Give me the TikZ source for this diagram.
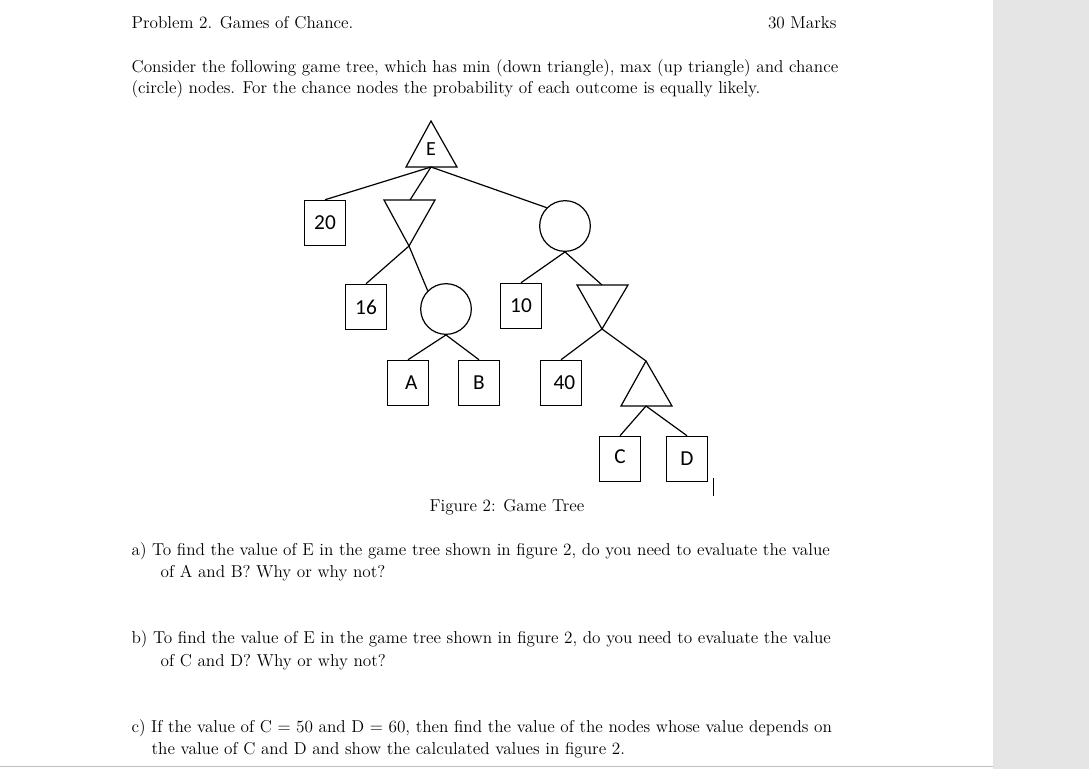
\documentclass[tikz,border=0pt]{standalone}
\usepackage{fontspec}
\newfontfamily\calib{Carlito}
\begin{document}
\begin{tikzpicture}[x=0.75pt,y=-0.75pt,line width=0.9pt,
  txt/.style={anchor=base west,inner sep=0pt,font=\fontsize{12.9}{15}\selectfont},
  leaf/.style={draw,minimum width=31pt,minimum height=34pt,inner sep=0pt,font=\calib\fontsize{16}{18}\selectfont},
  chance/.style={draw,circle,minimum size=38pt,inner sep=0pt}]
\useasboundingbox (0,0) rectangle (1089,769);
\fill[white] (0,0) rectangle (993,769);
\fill[black!10] (993,0) rectangle (1089,769);
\draw[black!25,line width=0.6pt] (0,766) -- (993,766);
% texts
\node[txt] (t1) at (131,28) {Problem 2. Games of Chance.};
\node[txt,anchor=base east] (t2) at (837,28) {30 Marks};
\node[txt] (t3) at (131,72) {Consider the following game tree, which has min (down triangle), max (up triangle) and chance};
\node[txt] (t4) at (131,93) {(circle) nodes. For the chance nodes the probability of each outcome is equally likely.};
\node[txt] (cap) at (429,511) {Figure 2: Game Tree};
\node[txt] (a1) at (131,555) {a) To find the value of E in the game tree shown in figure 2, do you need to evaluate the value};
\node[txt] (a2) at (160,577) {of A and B? Why or why not?};
\node[txt] (b1) at (131,643) {b) To find the value of E in the game tree shown in figure 2, do you need to evaluate the value};
\node[txt] (b2) at (160,666) {of C and D? Why or why not?};
\node[txt] (c1) at (131,732) {c) If the value of C = 50 and D = 60, then find the value of the nodes whose value depends on};
\node[txt] (c2) at (151,754) {the value of C and D and show the calculated values in figure 2.};
% tree shapes
\draw (406,167) -- (431,121) -- (457,167) -- cycle;
\coordinate (Eb) at (431,167);
\node[font=\calib\fontsize{15}{17}\selectfont] (E) at (431,149) {E};
\node[leaf] (n20) at (325,223) {20};
\draw (384,200) -- (435,200) -- (409,246) -- cycle;
\coordinate (m1t) at (410,200); \coordinate (m1b) at (409,246);
\node[chance] (c1n) at (565,226) {};
\node[leaf] (n16) at (366,307) {16};
\node[chance] (c2n) at (446,309) {};
\node[leaf] (n10) at (521,306) {10};
\draw (577,285) -- (628,285) -- (602,329) -- cycle;
\coordinate (m2t) at (602,285); \coordinate (m2b) at (602,329);
\node[leaf] (nA) at (408,383) {\hspace*{5pt}A};
\node[leaf] (nB) at (479,383) {B};
\node[leaf] (n40) at (561,383) {\hspace*{5pt}40};
\draw (621,406) -- (646,361) -- (672,406) -- cycle;
\coordinate (Mt) at (646,361); \coordinate (Mb) at (646,406);
\node[leaf] (nC) at (620,459) {\raisebox{4pt}{C}};
\node[leaf] (nD) at (687,459) {\raisebox{-3pt}{D}};
\draw[line width=0.6pt] (713,478) -- (713,496);
% edges
\draw (Eb) -- (n20.north);
\draw (Eb) -- (m1t);
\draw (Eb) -- (c1n.north west);
\draw (m1b) -- (n16.north);
\draw (m1b) -- (c2n.north west);
\draw (c2n.south) -- (nA.north);
\draw (c2n.south) -- (nB.north);
\draw (c1n.south) -- (n10.north);
\draw (c1n.south) -- (m2t);
\draw (m2b) -- (n40.north);
\draw (m2b) -- (Mt);
\draw (Mb) -- (nC.north);
\draw (Mb) -- (nD.north);
\end{tikzpicture}
\end{document}
